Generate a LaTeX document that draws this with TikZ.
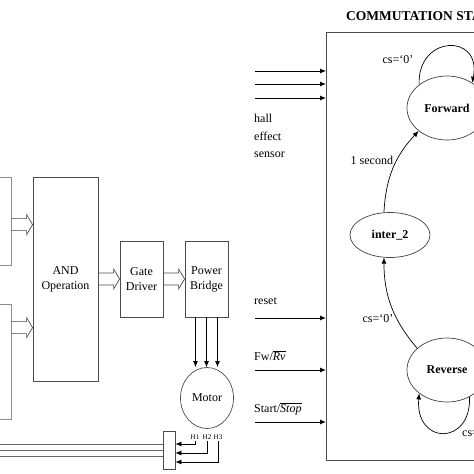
\documentclass[tikz,border=0pt]{standalone}
\usepackage{fontspec}
\setmainfont{Liberation Serif}
\usetikzlibrary{positioning, arrows.meta, shapes.geometric, calc}
\newcommand{\mainsize}{\fontsize{12}{15}\selectfont}
\tikzset{block/.style={draw=black!70, line width=0.8pt, inner sep=0pt, align=center},
         state/.style={ellipse, draw=black!75, line width=0.7pt, inner sep=0pt, font=\mainsize\bfseries},
         tip/.style={-{Latex[length=6pt, width=5pt]}, line width=0.9pt},
         hollow/.style={draw=black!70, line width=0.7pt,
           to path={let \p1=(\tikztostart), \p2=(\tikztotarget) in
             (\x1,\y1+6pt) -- (\x2-6pt,\y1+6pt) -- (\x2-6pt,\y1+10pt) -- (\x2,\y1)
             -- (\x2-6pt,\y1-10pt) -- (\x2-6pt,\y1-6pt) -- (\x1,\y1-6pt)}}}

\begin{document}
\begin{tikzpicture}[x=1pt, y=-1pt, font=\mainsize]
    \useasboundingbox (0,0) rectangle (474,474);
    \clip (0,0) rectangle (474,474);

    % Nodes of the drive
    \node[block, draw=black!45, minimum width=51pt, minimum height=88pt] (inA) at (-14.5,221) {};
    \node[block, draw=black!45, minimum width=51pt, minimum height=115pt] (inB) at (-14.5,361.5) {};
    \node[block, minimum width=65pt, minimum height=204pt] (andop) at (65.5,279) {AND\\Operation};
    \node[block, minimum width=43pt, minimum height=76pt] (gate) at (141.5,279) {Gate\\Driver};
    \node[block, minimum width=43pt, minimum height=76pt] (bridge) at (206.5,279) {Power\\Bridge};
    \node[ellipse, draw=black!70, line width=0.7pt, inner sep=0pt, minimum width=53pt, minimum height=61pt] (motor) at (207,398) {Motor};
    \node[font=\fontsize{7}{8}\selectfont, inner sep=1pt] (h1) at (195,437) {H1};
    \node[font=\fontsize{7}{8}\selectfont, inner sep=1pt] (h2) at (207,437) {H2};
    \node[font=\fontsize{7}{8}\selectfont, inner sep=1pt] (h3) at (218,437) {H3};
    \node[block, minimum width=12pt, minimum height=38pt] (conn) at (169,450) {};
    \coordinate (bus1) at (-5,444);
    \coordinate (bus2) at (-5,450);
    \coordinate (bus3) at (-5,456);

    % Edges of the drive
    \draw[hollow] ([yshift=-48pt]inA.north east) to (andop.west);
    \draw[hollow] ([yshift=-24pt]inB.north east) to (andop.west);
    \draw[hollow] (andop.east) to (gate.west);
    \draw[hollow] (gate.east) to (bridge.west);
    \foreach \d in {-11,0,11}
        \draw[tip] ([xshift=\d pt]bridge.south) -- ([xshift=\d pt]bridge.south |- motor.north);
    \draw[tip, line width=0.7pt] (h1.south) |- ([yshift=6pt]conn.east);
    \draw[tip, line width=0.7pt] (h2.south) |- ([yshift=-3pt]conn.east);
    \draw[tip, line width=0.7pt] (h3.south) |- ([yshift=-12pt]conn.east);
    \draw[black!60, line width=0.7pt] (conn.west |- bus1) -- (bus1);
    \draw[black!60, line width=0.7pt] (conn.west |- bus2) -- (bus2);
    \draw[black!60, line width=0.7pt] (conn.west |- bus3) -- (bus3);

    % State machine
    \node[anchor=west, inner sep=0pt, font=\fontsize{13.5}{15}\selectfont\bfseries] (title) at (346,16) {COMMUTATION STATE MACHINE};
    \node[block, anchor=north west, minimum width=200pt, minimum height=428pt] (fsm) at (326,32) {};
    \node[state, minimum width=80pt, minimum height=64pt] (fwd) at (447,108) {Forward};
    \node[state, minimum width=80pt, minimum height=45pt] (int2) at (390,235) {inter\_2};
    \node[state, minimum width=80pt, minimum height=64pt] (rev) at (447,370) {Reverse};

    % Inputs
    \coordinate (hs1) at (255,71);
    \coordinate (hs2) at (255,84);
    \coordinate (hs3) at (255,98);
    \coordinate (rs) at (255,318);
    \coordinate (fr) at (255,370);
    \coordinate (ss) at (255,422);
    \node[anchor=west, align=left, inner sep=0pt, font=\fontsize{12}{17.5}\selectfont] (hall) at (254,136) {hall\\effect\\sensor};
    \node[anchor=west, inner sep=0pt] (reset) at (254,301) {reset};
    \node[anchor=west, inner sep=0pt] (fwrv) at (254,356) {Fw/$\overline{\mbox{\textit{Rv}}}$};
    \node[anchor=west, inner sep=0pt] (stst) at (254,409) {Start/$\overline{\mbox{\textit{Stop}}}$};
    \draw[tip] (hs1) -- (hs1 -| fsm.west);
    \draw[tip] (hs2) -- (hs2 -| fsm.west);
    \draw[tip] (hs3) -- (hs3 -| fsm.west);
    \draw[tip] (rs) -- (rs -| fsm.west);
    \draw[tip] (fr) -- (fr -| fsm.west);
    \draw[tip] (ss) -- (ss -| fsm.west);

    % Transitions
    \draw[tip, line width=0.7pt] (int2.105) to[bend left=20] node[pos=0.6, left] {1 second} (fwd.219);
    \draw[tip, line width=0.7pt] (rev.144) to[bend left=20] node[pos=0.35, left] {cs=`0'} (int2.255);
    \draw[tip, line width=0.7pt] (fwd.140) .. controls +(-2,-50) and +(10,-50) .. (fwd.45);
    \node (fwdloop) at (398,60) {cs=`0'};
    \draw[tip, line width=0.7pt] (rev.-50) .. controls +(2,49) and +(-4,52) .. (rev.-140);
    \node[anchor=west, inner sep=0pt] (revloop) at (462,433) {cs=`0'};
\end{tikzpicture}
\end{document}
